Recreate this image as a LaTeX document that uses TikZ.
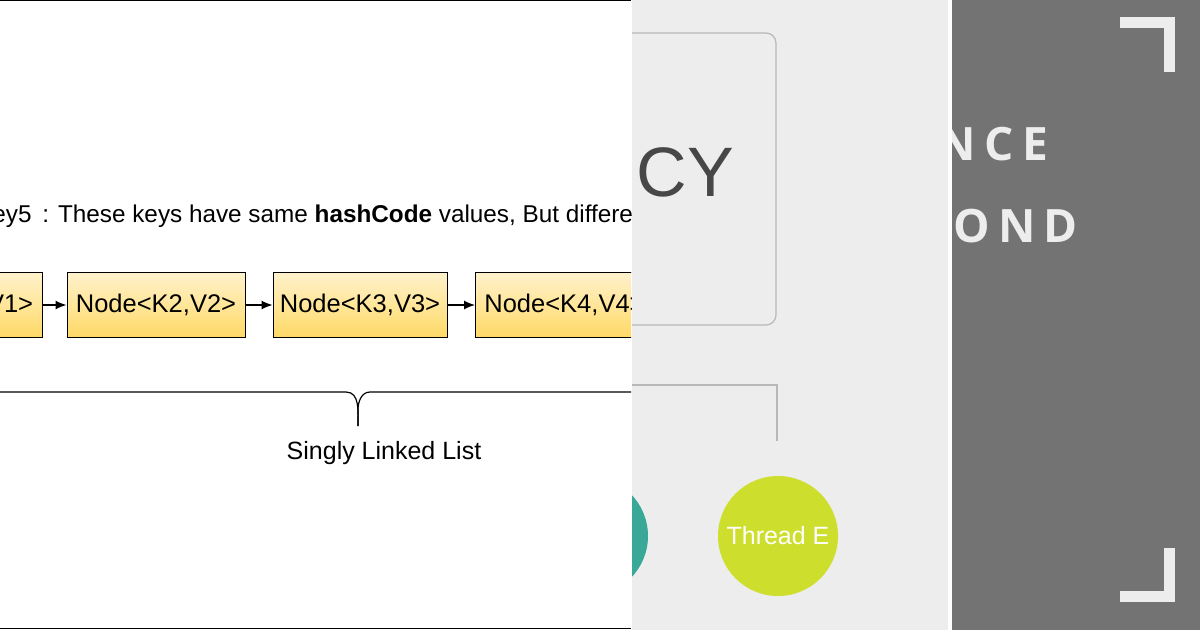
\documentclass[tikz,border=0pt]{standalone}
\usepackage{fontspec}
\setmainfont{Liberation Sans}
\newfontfamily\osb[LetterSpace=18]{Open Sans Bold}
\definecolor{bxtop}{HTML}{FFF2CC}
\definecolor{bxbot}{HTML}{FFD966}
\definecolor{midbg}{HTML}{EDEDED}
\definecolor{darkbg}{HTML}{737373}
\definecolor{lime}{HTML}{CDDF2C}
\definecolor{teal}{HTML}{3AA896}
\tikzset{
 nd/.style={draw=black,line width=1pt,top color=bxtop,bottom color=bxbot,minimum height=65pt,inner sep=0pt,font=\fontsize{25.5}{27}\selectfont},
 arr/.style={-{Latex[length=11pt,width=9pt]},line width=1.2pt},
}
\usetikzlibrary{arrows.meta}
\begin{document}
\begin{tikzpicture}[x=1pt,y=-1pt]
\useasboundingbox (0,0) rectangle (1200,630);
\fill[white] (0,0) rectangle (1200,630);
% left panel
\begin{scope}
\clip (0,0) rectangle (631,630);
\draw[line width=1.2pt] (0,0.6) -- (631,0.6);
\draw[line width=1.2pt] (0,628.5) -- (631,628.5);
\node[anchor=base west,font=\fontsize{24.3}{27}\selectfont,inner sep=0pt] (t) at (-20,222) {key5 \,: These keys have same \textbf{hashCode} values, But different};
\node[nd,minimum width=178pt] (n1) at (-47,305) {Node<K1,V1>};
\node[nd,minimum width=178pt] (n2) at (156,305) {Node<K2,V2>};
\node[nd,minimum width=174pt] (n3) at (360,305) {Node<K3,V3>};
\node[nd,minimum width=178pt,anchor=west] (n4) at (475,305) {Node<K4,V4>};
\draw[arr] (n1) -- (n2);
\draw[arr] (n2) -- (n3);
\draw[arr] (n3) -- (n4);
\coordinate (bl) at (-10,392);
\coordinate (br) at (700,392);
\coordinate (bt) at (358,426);
\draw[line width=1.2pt] (bl) -- (346,392) to[out=0,in=90] (bt);
\draw[line width=1.2pt] (br) -- (370,392) to[out=180,in=90] (358,410) -- (bt);
\node[font=\fontsize{25}{27}\selectfont] (sl) at (384,453) {Singly Linked List};
\end{scope}
% middle panel
\fill[midbg] (632,0) rectangle (948,630);
\begin{scope}
\clip (632,0) rectangle (948,630);
\draw[draw=black!28,line width=1.2pt,rounded corners=10pt] (560,33) rectangle (776,325);
\node[anchor=base east,text=black!72,font=\fontsize{70}{72}\selectfont,inner sep=0pt] (icy) at (734,196) {ICY};
\node[circle,fill=lime,minimum size=120pt,inner sep=0pt,text=white,font=\fontsize{25}{27}\selectfont] (te) at (778,536) {Thread E};
\node[circle,fill=teal,minimum size=120pt,inner sep=0pt] (td) at (588,536) {};
\coordinate (c1) at (600,385);
\draw[black!28,line width=1.2pt] (c1) -- (777,385) -- (777,441);
\end{scope}
% right panel
\fill[darkbg] (952,0) rectangle (1200,630);
\begin{scope}
\clip (952,0) rectangle (1200,630);
\node[anchor=base east,text=midbg,font=\osb\fontsize{46}{48}\selectfont,inner sep=0pt] (w1) at (1048,160) {ANCE};
\node[anchor=base east,text=midbg,font=\osb\fontsize{46}{48}\selectfont,inner sep=0pt] (w2) at (1078,242) {YOND};
\fill[midbg] (1120,17) rectangle (1175,28);
\fill[midbg] (1164,17) rectangle (1175,72);
\fill[midbg] (1164,548) rectangle (1175,602);
\fill[midbg] (1120,591) rectangle (1175,602);
\end{scope}
\end{tikzpicture}
\end{document}
